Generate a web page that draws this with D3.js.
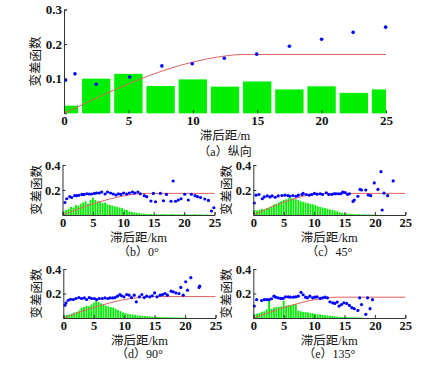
<!DOCTYPE html>
<html lang="zh">
<head>
<meta charset="UTF-8">
<title>变差函数</title>
<script src="https://d3js.org/d3.v7.min.js"></script>
<style>
  body { margin: 0; background: #fff; }
  text { font-family: "Liberation Serif", "Noto Sans CJK SC", serif; fill: #111; }
  .cjk { font-family: "Liberation Serif", "Noto Sans CJK SC", sans-serif; }
</style>
</head>
<body>
<svg id="chart" width="441" height="365"></svg>
<script>
// ---- data ----
// (a) 纵向, lag in m
const lagA   = [0.13, 0.85, 2.5, 5.1, 7.6, 9.96, 12.45, 14.96, 17.5, 20.0, 22.45, 24.97];
const gammaA = [0.096, 0.114, 0.084, 0.105, 0.137, 0.143, 0.159, 0.171, 0.194, 0.214, 0.234, 0.249];
const binA   = [0, 2.5, 5, 7.5, 10, 12.5, 15, 17.5, 20, 22.5, 25];
const histA  = [0.022, 0.1, 0.114, 0.079, 0.098, 0.077, 0.092, 0.069, 0.078, 0.059, 0.069];
const fitA   = [[0,0],[2,0.035],[4,0.069],[6,0.1],[8,0.127],[10,0.148],[12,0.163],[14,0.17],[15,0.17],[25,0.17]];

// (b) 0°
const ptsB = [[0.4,0.10],[0.7,0.13],[1.2,0.147],[1.5,0.14],[2.0,0.155],[2.35,0.155],[2.7,0.158],[3.2,0.165],[3.55,0.165],[4.0,0.17],[4.4,0.168],[4.8,0.168],[5.25,0.173],[5.6,0.176],[6.05,0.176],[6.45,0.184],[7.0,0.168],[7.4,0.184],[7.9,0.176],[8.35,0.168],[8.8,0.16],[9.2,0.17],[9.6,0.165],[10.05,0.176],[10.55,0.168],[11.0,0.176],[11.5,0.184],[11.9,0.176],[12.4,0.184],[12.8,0.17],[13.45,0.155],[13.85,0.147],[14.55,0.112],[14.95,0.173],[15.3,0.106],[16.1,0.173],[16.6,0.114],[17.1,0.165],[17.85,0.11],[18.2,0.272],[18.6,0.11],[19.05,0.12],[19.5,0.13],[20.1,0.166],[20.7,0.12],[21.2,0.166],[21.8,0.155],[22.2,0.147],[22.7,0.14],[23.4,0.128],[24.0,0.117],[24.5,0.032],[24.9,0.058]];
const histB = [0.03,0.04,0.05,0.065,0.06,0.08,0.075,0.09,0.1,0.11,0.09,0.12,0.14,0.12,0.11,0.105,0.095,0.1,0.085,0.08,0.075,0.07,0.065,0.06,0.055,0.045,0.04,0.03,0.025,0.02,0.018,0.015,0.012,0.01,0.01,0.008,0.008,0.006,0.007,0.005,0.006,0.008,0.006,0.005,0.007,0.006,0.005,0.006,0.004,0.005,0.006,0.005,0.004,0.005,0.006,0.004,0.005,0.004,0.003,0.004,0.003,0.002];
const fitB = [[0,0],[2,0.037],[4,0.073],[6,0.104],[8,0.131],[10,0.152],[12,0.167],[14,0.173],[25,0.173]];

// (c) 45°
const ptsC = [[0.16,0.096],[0.44,0.159],[0.93,0.164],[1.48,0.13],[1.8,0.145],[2.3,0.153],[2.75,0.145],[3.1,0.153],[3.6,0.142],[4.1,0.153],[4.7,0.156],[5.2,0.159],[5.7,0.156],[6.0,0.15],[6.5,0.156],[7.0,0.15],[7.4,0.159],[8.0,0.164],[8.2,0.173],[8.7,0.164],[9.2,0.159],[9.6,0.164],[10.05,0.173],[10.5,0.167],[11.0,0.17],[11.4,0.164],[12.0,0.178],[12.4,0.164],[12.9,0.165],[13.3,0.17],[13.6,0.17],[14.0,0.17],[14.4,0.17],[14.7,0.183],[15.1,0.18],[15.5,0.165],[15.8,0.17],[16.4,0.109],[16.6,0.12],[17.2,0.15],[17.55,0.205],[17.8,0.2],[18.5,0.2],[18.9,0.16],[19.3,0.155],[19.9,0.257],[20.5,0.205],[21.0,0.347],[21.2,0.04],[21.5,0.175],[22.1,0.155],[23.0,0.273]];
const histC = [0.04,0.035,0.04,0.05,0.045,0.055,0.06,0.07,0.085,0.09,0.1,0.11,0.12,0.125,0.135,0.135,0.13,0.125,0.12,0.11,0.105,0.1,0.095,0.09,0.085,0.08,0.07,0.065,0.06,0.055,0.05,0.045,0.04,0.035,0.03,0.022,0.018,0.015,0.012,0.01,0.008,0.007,0.006,0.006,0.005,0.005,0.004,0.004,0.003,0.003,0.002,0.002,0.002,0,0,0,0,0,0,0,0,0];
const fitC = [[0,0],[2,0.043],[4,0.084],[6,0.119],[8,0.148],[10,0.166],[12,0.173],[25,0.173]];

// (d) 90°
const ptsD = [[0.27,0.104],[0.44,0.123],[0.82,0.145],[1.2,0.153],[1.64,0.151],[2.08,0.159],[2.57,0.167],[3.0,0.159],[3.45,0.164],[3.83,0.151],[4.27,0.167],[4.65,0.159],[5.1,0.159],[5.47,0.151],[5.9,0.159],[6.4,0.159],[6.84,0.164],[7.3,0.159],[7.66,0.164],[8.1,0.164],[8.5,0.167],[8.9,0.178],[9.3,0.192],[9.57,0.181],[9.96,0.173],[10.4,0.192],[10.8,0.186],[11.2,0.167],[11.65,0.186],[12.0,0.132],[12.5,0.173],[12.9,0.192],[13.3,0.167],[13.7,0.178],[14.2,0.173],[14.6,0.181],[15.0,0.205],[15.4,0.173],[15.9,0.186],[16.3,0.192],[16.7,0.2],[17.1,0.186],[17.7,0.219],[18.05,0.214],[18.5,0.205],[19.0,0.2],[19.3,0.25],[19.7,0.186],[20.1,0.296],[20.4,0.227],[20.95,0.329],[22.3,0.25],[22.4,0.26]];
const histD = [0.02,0.025,0.03,0.035,0.045,0.05,0.06,0.085,0.09,0.1,0.095,0.11,0.125,0.14,0.13,0.12,0.11,0.1,0.095,0.09,0.085,0.075,0.065,0.055,0.045,0.04,0.035,0.03,0.028,0.025,0.022,0.02,0.018,0.016,0.015,0.013,0.012,0.01,0.008,0.008,0.007,0.007,0.006,0.006,0.005,0.005,0.005,0.004,0.004,0.004,0.003,0,0,0,0,0,0,0,0,0,0,0];
const fitD = [[0,0],[2,0.036],[4,0.07],[6,0.101],[8,0.128],[10,0.15],[12,0.165],[14,0.174],[15,0.175],[25,0.175]];

// (e) 135°
const ptsE = [[0.16,0.097],[0.55,0.15],[1.37,0.143],[1.8,0.15],[2.2,0.15],[2.6,0.15],[3.0,0.157],[3.4,0.178],[3.7,0.17],[4.1,0.165],[4.5,0.16],[4.9,0.16],[5.3,0.173],[5.75,0.173],[6.1,0.17],[6.6,0.17],[7.0,0.173],[7.4,0.178],[7.85,0.21],[8.2,0.19],[8.6,0.17],[8.9,0.165],[9.3,0.178],[9.76,0.165],[10.1,0.17],[10.5,0.173],[11.0,0.16],[11.4,0.165],[11.8,0.17],[12.2,0.165],[12.6,0.132],[13.05,0.124],[13.4,0.119],[13.8,0.13],[14.1,0.097],[14.5,0.11],[14.9,0.124],[15.35,0.119],[15.8,0.103],[16.2,0.084],[16.6,0.076],[17.2,0.062],[17.5,0.165],[17.8,0.11],[18.5,0.03],[18.8,0.165],[19.2,0.076],[19.6,0.15]];
const histE = [0.03,0.035,0.04,0.05,0.055,0.07,0.145,0.075,0.085,0.09,0.09,0.095,0.14,0.1,0.105,0.1,0.11,0.115,0.06,0.055,0.05,0.05,0.045,0.04,0.04,0.035,0.03,0.03,0.025,0.022,0.02,0.018,0.016,0.014,0.012,0.01,0.009,0.008,0.007,0.006,0.006,0.005,0.005,0.004,0.004,0,0,0,0,0,0,0,0,0,0,0,0,0,0,0,0,0];
const fitE = [[0,0],[2,0.035],[4,0.069],[6,0.1],[8,0.127],[10,0.149],[12,0.164],[14,0.17],[25,0.17]];

const xTicks = [0, 5, 10, 15, 20, 25];
const smallBinStep = 0.4;

// ---- drawing ----
const svg = d3.select('#chart');
svg.append('rect').attr('width', 441).attr('height', 365).attr('fill', '#fff');

function drawPanel(p) {
  const g = svg.append('g');
  const x = d3.scaleLinear().domain([0, 25]).range([p.left, p.right]);
  const y = d3.scaleLinear().domain([0, p.yMax]).range([p.bottom, p.top]);

  // histogram bars
  g.selectAll('rect.bar').data(p.bars).enter().append('rect')
    .attr('class', 'bar')
    .attr('x', d => x(Math.max(0, d[0] - p.barW / 2)))
    .attr('width', d => x(Math.min(25, d[0] + p.barW / 2)) - x(Math.max(0, d[0] - p.barW / 2)))
    .attr('y', d => y(d[1]))
    .attr('height', d => y(0) - y(d[1]))
    .attr('fill', '#00ee00');

  // fitted model
  g.append('path').datum(p.fit)
    .attr('d', d3.line().x(d => x(d[0])).y(d => y(d[1])).curve(d3.curveMonotoneX))
    .attr('fill', 'none').attr('stroke', '#e06060').attr('stroke-width', 1);

  // experimental variogram
  g.selectAll('circle').data(p.pts).enter().append('circle')
    .attr('cx', d => x(d[0])).attr('cy', d => y(d[1]))
    .attr('r', p.r).attr('fill', '#0000ff');

  // axes (ticks point inward)
  const xa = g.append('g').attr('transform', `translate(0,${p.bottom})`)
    .call(d3.axisBottom(x).tickValues(xTicks).tickSize(-p.tick).tickPadding(p.xPad).tickFormat(d3.format('d')));
  const ya = g.append('g').attr('transform', `translate(${p.left},0)`)
    .call(d3.axisLeft(y).tickValues(p.yTicks).tickSize(-p.tick).tickPadding(2).tickFormat(d3.format('.1f')));
  [xa, ya].forEach(a => {
    a.select('.domain').attr('stroke', '#333');
    a.selectAll('.tick line').attr('stroke', '#333');
    a.selectAll('text').attr('font-size', p.fs).attr('font-weight', 'bold')
      .attr('font-family', '"Liberation Serif", serif').attr('fill', '#111');
  });
  if (p.hideXDomain) xa.select('.domain').attr('stroke', 'none');

  // labels
  svg.append('text').attr('class', 'cjk')
    .attr('transform', `translate(${p.left - p.yLabOff},${(p.top + p.bottom) / 2}) rotate(-90)`)
    .attr('text-anchor', 'middle').attr('dominant-baseline', 'central')
    .attr('font-size', 12.5).text('变差函数');
  svg.append('text').attr('class', 'cjk')
    .attr('x', (p.left + p.right) / 2).attr('y', p.xLabY)
    .attr('text-anchor', 'middle').attr('dominant-baseline', 'central')
    .attr('font-size', 12.5).text(p.xLab);
  svg.append('text').attr('class', 'cjk')
    .attr('x', (p.left + p.right) / 2).attr('y', p.capY)
    .attr('text-anchor', 'middle').attr('dominant-baseline', 'central')
    .attr('font-size', 12).text(p.cap);
}

const smallBars = h => h.map((v, i) => [i * smallBinStep + smallBinStep / 2, v]);

drawPanel({ left: 64, right: 386, top: 9.5, bottom: 113.3, yMax: 0.3, yTicks: [0.1, 0.2, 0.3],
  bars: binA.map((b, i) => [b, histA[i]]), barW: 2.2, fit: fitA, pts: lagA.map((l, i) => [l, gammaA[i]]),
  r: 1.8, tick: 3, xPad: 2, fs: 13, yLabOff: 28, xLab: '滞后距/m', xLabY: 136, cap: '（a）纵向', capY: 152, hideXDomain: true });

drawPanel({ left: 62.5, right: 214.5, top: 165, bottom: 215, yMax: 0.4, yTicks: [0.2, 0.4],
  bars: smallBars(histB), barW: 0.3, fit: fitB, pts: ptsB,
  r: 1.6, tick: 3, xPad: 3, fs: 12.5, yLabOff: 26, xLab: '滞后距/km', xLabY: 238, cap: '（b）0°', capY: 252 });

drawPanel({ left: 253.3, right: 405.3, top: 165, bottom: 215, yMax: 0.4, yTicks: [0.2, 0.4],
  bars: smallBars(histC), barW: 0.3, fit: fitC, pts: ptsC,
  r: 1.6, tick: 3, xPad: 3, fs: 12.5, yLabOff: 26, xLab: '滞后距/km', xLabY: 238, cap: '（c）45°', capY: 252 });

drawPanel({ left: 63.3, right: 215.5, top: 269, bottom: 318, yMax: 0.4, yTicks: [0.2, 0.4],
  bars: smallBars(histD), barW: 0.3, fit: fitD, pts: ptsD,
  r: 1.6, tick: 3, xPad: 3, fs: 12.5, yLabOff: 26, xLab: '滞后距/km', xLabY: 341, cap: '（d）90°', capY: 354 });

drawPanel({ left: 253.3, right: 405.3, top: 269, bottom: 318, yMax: 0.4, yTicks: [0.2, 0.4],
  bars: smallBars(histE), barW: 0.3, fit: fitE, pts: ptsE,
  r: 1.6, tick: 3, xPad: 3, fs: 12.5, yLabOff: 26, xLab: '滞后距/km', xLabY: 341, cap: '（e）135°', capY: 354 });
</script>
</body>
</html>
